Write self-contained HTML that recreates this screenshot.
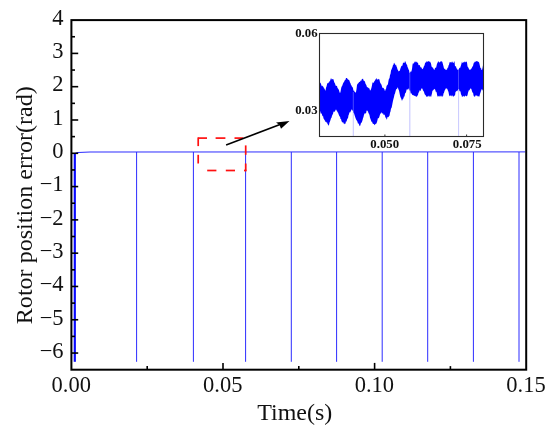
<!DOCTYPE html>
<html><head><meta charset="utf-8"><title>Rotor position error</title>
<style>html,body{margin:0;padding:0;background:#fff}svg{display:block}</style></head>
<body>
<svg width="550" height="433" viewBox="0 0 550 433">
<rect x="0" y="0" width="550" height="433" fill="#fff"/>
<g stroke="#2c2cff" stroke-width="1" fill="none">
<path d="M75.5 153.1 L78 152.5 L90 152.0 L525.2 151.9"/>
<line x1="136.6" y1="152" x2="136.6" y2="361.8"/>
<line x1="193.4" y1="152" x2="193.4" y2="361.8"/>
<line x1="245.6" y1="152" x2="245.6" y2="361.8"/>
<line x1="291.3" y1="152" x2="291.3" y2="361.8"/>
<line x1="336.6" y1="152" x2="336.6" y2="361.8"/>
<line x1="382.2" y1="152" x2="382.2" y2="361.8"/>
<line x1="427.7" y1="152" x2="427.7" y2="361.8"/>
<line x1="473.4" y1="152" x2="473.4" y2="361.8"/>
<line x1="519.0" y1="152" x2="519.0" y2="361.8"/>
</g>
<line x1="74.8" y1="153" x2="74.8" y2="361.8" stroke="#0a0aff" stroke-width="2.2"/>
<rect x="71.4" y="20.1" width="454.80000000000007" height="349.59999999999997" fill="none" stroke="#000" stroke-width="2"/>
<g stroke="#000" stroke-width="1.6">
<line x1="71.4" y1="353.05" x2="78.2" y2="353.05"/>
<line x1="71.4" y1="319.76" x2="78.2" y2="319.76"/>
<line x1="71.4" y1="286.46" x2="78.2" y2="286.46"/>
<line x1="71.4" y1="253.17" x2="78.2" y2="253.17"/>
<line x1="71.4" y1="219.87" x2="78.2" y2="219.87"/>
<line x1="71.4" y1="186.58" x2="78.2" y2="186.58"/>
<line x1="71.4" y1="153.28" x2="78.2" y2="153.28"/>
<line x1="71.4" y1="119.99" x2="78.2" y2="119.99"/>
<line x1="71.4" y1="86.69" x2="78.2" y2="86.69"/>
<line x1="71.4" y1="53.40" x2="78.2" y2="53.40"/>
<line x1="71.4" y1="336.40" x2="75.0" y2="336.40"/>
<line x1="71.4" y1="303.11" x2="75.0" y2="303.11"/>
<line x1="71.4" y1="269.81" x2="75.0" y2="269.81"/>
<line x1="71.4" y1="236.52" x2="75.0" y2="236.52"/>
<line x1="71.4" y1="203.22" x2="75.0" y2="203.22"/>
<line x1="71.4" y1="169.93" x2="75.0" y2="169.93"/>
<line x1="71.4" y1="136.63" x2="75.0" y2="136.63"/>
<line x1="71.4" y1="103.34" x2="75.0" y2="103.34"/>
<line x1="71.4" y1="70.04" x2="75.0" y2="70.04"/>
<line x1="71.4" y1="36.75" x2="75.0" y2="36.75"/>
<line x1="223.00" y1="369.7" x2="223.00" y2="362.9"/>
<line x1="374.60" y1="369.7" x2="374.60" y2="362.9"/>
<line x1="147.20" y1="369.7" x2="147.20" y2="366.09999999999997"/>
<line x1="298.80" y1="369.7" x2="298.80" y2="366.09999999999997"/>
<line x1="450.40" y1="369.7" x2="450.40" y2="366.09999999999997"/>
</g>
<g font-family="'Liberation Serif', serif" font-size="22.5px" fill="#111">
<text x="63.6" y="357.85" text-anchor="end">−6</text>
<text x="63.6" y="324.56" text-anchor="end">−5</text>
<text x="63.6" y="291.26" text-anchor="end">−4</text>
<text x="63.6" y="257.97" text-anchor="end">−3</text>
<text x="63.6" y="224.67" text-anchor="end">−2</text>
<text x="63.6" y="191.38" text-anchor="end">−1</text>
<text x="63.6" y="158.08" text-anchor="end">0</text>
<text x="63.6" y="124.79" text-anchor="end">1</text>
<text x="63.6" y="91.49" text-anchor="end">2</text>
<text x="63.6" y="58.20" text-anchor="end">3</text>
<text x="63.6" y="24.90" text-anchor="end">4</text>
<text x="71.20" y="391.6" text-anchor="middle">0.00</text>
<text x="222.80" y="391.6" text-anchor="middle">0.05</text>
<text x="374.40" y="391.6" text-anchor="middle">0.10</text>
<text x="526.00" y="391.6" text-anchor="middle">0.15</text>
</g>
<g font-family="'Liberation Serif', serif" font-size="23px" fill="#111">
<text x="294.7" y="419.6" text-anchor="middle" textLength="75" lengthAdjust="spacingAndGlyphs">Time(s)</text>
<text transform="translate(31.6 205.2) rotate(-90)" text-anchor="middle" textLength="238" lengthAdjust="spacingAndGlyphs">Rotor position error(rad)</text>
</g>
<g stroke="#ff1010" stroke-width="1.7" fill="none">
<line x1="198.2" y1="138.1" x2="207" y2="138.1"/>
<line x1="215.6" y1="138.1" x2="225.4" y2="138.1"/>
<line x1="234.5" y1="138.1" x2="243.3" y2="138.1"/>
<line x1="245.7" y1="145.4" x2="245.7" y2="154.8"/>
<line x1="245.7" y1="163.5" x2="245.7" y2="171.2"/>
<line x1="246.4" y1="170.5" x2="244" y2="170.5"/>
<line x1="225.8" y1="170.5" x2="235" y2="170.5"/>
<line x1="207.2" y1="170.5" x2="216.4" y2="170.5"/>
<line x1="198.2" y1="137.4" x2="198.2" y2="146.1"/>
<line x1="198.2" y1="154.8" x2="198.2" y2="163.5"/>
</g>
<line x1="226.1" y1="144.9" x2="280" y2="124.6" stroke="#000" stroke-width="1.6"/>
<polygon points="289.5,120.9 276.0,122.6 279.6,125.0 281.0,128.8" fill="#000"/>
<g stroke="#ccccff" stroke-width="1">
<line x1="353.3" y1="92" x2="353.3" y2="136.5"/>
<line x1="409.8" y1="72" x2="409.8" y2="136.5"/>
<line x1="458.6" y1="70" x2="458.6" y2="136.5"/>
</g>
<polygon points="319.5,81.7 320.0,82.8 320.5,82.7 321.0,84.0 321.5,85.6 322.0,86.4 322.5,85.5 323.0,86.4 323.5,86.9 324.0,88.5 324.5,88.4 325.0,90.1 325.5,90.7 326.0,87.7 326.5,86.4 327.0,84.4 327.5,82.8 328.0,83.5 328.5,82.5 329.0,82.4 329.5,81.2 330.0,81.1 330.5,79.5 331.0,78.1 331.5,79.1 332.0,79.8 332.5,78.9 333.0,78.9 333.5,79.4 334.0,81.4 334.5,82.8 335.0,83.4 335.5,85.2 336.0,85.9 336.5,85.7 337.0,85.9 337.5,88.0 338.0,88.6 338.5,89.2 339.0,90.2 339.5,91.9 340.0,93.3 340.5,91.7 341.0,89.0 341.5,86.7 342.0,86.3 342.5,84.9 343.0,83.4 343.5,82.5 344.0,82.1 344.5,80.7 345.0,79.9 345.5,79.7 346.0,78.0 346.5,78.0 347.0,77.9 347.5,79.0 348.0,79.5 348.5,79.7 349.0,80.1 349.5,80.7 350.0,82.6 350.5,83.2 351.0,85.0 351.5,85.5 352.0,86.8 352.5,86.9 353.0,88.3 353.5,90.9 354.0,90.2 354.5,91.7 355.0,92.1 355.5,92.7 356.0,91.9 356.5,89.2 357.0,85.0 357.5,83.9 358.0,83.6 358.5,82.9 359.0,82.2 359.5,81.7 360.0,81.9 360.5,80.3 361.0,81.3 361.5,80.0 362.0,78.9 362.5,79.1 363.0,78.6 363.5,80.5 364.0,80.8 364.5,81.1 365.0,81.7 365.5,83.7 366.0,84.6 366.5,85.6 367.0,87.2 367.5,87.2 368.0,87.2 368.5,88.2 369.0,88.1 369.5,88.7 370.0,90.4 370.5,90.3 371.0,89.2 371.5,87.4 372.0,85.2 372.5,82.6 373.0,82.4 373.5,82.9 374.0,82.1 374.5,80.9 375.0,80.4 375.5,79.4 376.0,78.8 376.5,78.1 377.0,80.0 377.5,79.6 378.0,78.7 378.5,79.5 379.0,78.8 379.5,79.9 380.0,82.2 380.5,83.2 381.0,84.0 381.5,84.7 382.0,86.6 382.5,88.1 383.0,87.8 383.5,87.9 384.0,88.7 384.5,89.6 385.0,91.5 385.5,89.4 386.0,88.9 386.5,86.2 387.0,85.2 387.5,84.9 388.0,83.7 388.5,80.7 389.0,78.4 389.5,78.4 390.0,75.0 390.5,73.9 391.0,70.5 391.5,69.6 392.0,68.2 392.5,66.9 393.0,65.1 393.5,64.8 394.0,62.5 394.5,63.4 395.0,64.1 395.5,65.6 396.0,64.5 396.5,66.5 397.0,67.4 397.5,69.6 398.0,70.0 398.5,71.5 399.0,71.0 399.5,71.0 400.0,70.1 400.5,68.3 401.0,67.0 401.5,65.7 402.0,66.1 402.5,65.3 403.0,62.7 403.5,62.4 404.0,63.2 404.5,62.8 405.0,61.1 405.5,61.7 406.0,63.1 406.5,64.4 407.0,64.5 407.5,67.1 408.0,67.7 408.5,69.6 409.0,69.9 409.5,72.9 410.0,72.7 410.5,71.3 411.0,72.1 411.5,71.0 412.0,68.9 412.5,64.7 413.0,63.0 413.5,64.0 414.0,62.5 414.5,62.4 415.0,61.1 415.5,62.4 416.0,61.3 416.5,62.6 417.0,61.5 417.5,63.0 418.0,62.7 418.5,65.2 419.0,65.0 419.5,64.9 420.0,65.7 420.5,67.5 421.0,67.1 421.5,67.7 422.0,68.7 422.5,69.2 423.0,68.6 423.5,67.6 424.0,65.9 424.5,65.4 425.0,63.2 425.5,62.3 426.0,62.8 426.5,61.3 427.0,61.5 427.5,61.5 428.0,62.1 428.5,61.0 429.0,61.1 429.5,62.0 430.0,61.4 430.5,62.5 431.0,63.4 431.5,66.3 432.0,67.3 432.5,67.4 433.0,67.4 433.5,69.0 434.0,69.6 434.5,69.9 435.0,68.1 435.5,67.5 436.0,68.0 436.5,65.9 437.0,63.7 437.5,63.1 438.0,61.6 438.5,61.3 439.0,62.5 439.5,62.2 440.0,62.3 440.5,61.1 441.0,61.9 441.5,61.0 442.0,61.5 442.5,62.6 443.0,64.5 443.5,66.2 444.0,68.4 444.5,69.0 445.0,68.6 445.5,69.8 446.0,70.2 446.5,69.6 447.0,69.7 447.5,67.4 448.0,68.0 448.5,65.5 449.0,64.7 449.5,62.5 450.0,62.0 450.5,62.5 451.0,62.0 451.5,62.7 452.0,61.2 452.5,62.1 453.0,62.9 453.5,63.0 454.0,61.5 454.5,61.6 455.0,66.3 455.5,66.3 456.0,66.3 456.5,68.4 457.0,68.4 457.5,69.8 458.0,69.9 458.5,69.7 459.0,68.7 459.5,67.6 460.0,68.2 460.5,66.8 461.0,65.3 461.5,63.4 462.0,61.6 462.5,63.0 463.0,62.9 463.5,62.1 464.0,62.2 464.5,61.3 465.0,62.7 465.5,61.4 466.0,62.2 466.5,61.3 467.0,62.5 467.5,66.5 468.0,67.0 468.5,68.1 469.0,69.1 469.5,70.2 470.0,69.0 470.5,70.0 471.0,69.1 471.5,68.4 472.0,67.4 472.5,66.6 473.0,66.0 473.5,63.7 474.0,62.5 474.5,62.5 475.0,61.2 475.5,62.0 476.0,61.2 476.5,61.3 477.0,61.0 477.5,61.5 478.0,61.5 478.5,62.1 479.0,62.3 479.5,64.1 480.0,66.3 480.5,68.2 481.0,68.1 481.5,69.9 482.0,69.9 482.5,68.1 483.0,65.3 483.5,64.8 483.5,90.7 483.0,90.7 482.5,90.1 482.0,88.9 481.5,89.6 481.0,91.0 480.5,92.6 480.0,94.1 479.5,96.1 479.0,97.0 478.5,95.7 478.0,96.8 477.5,96.0 477.0,95.4 476.5,95.8 476.0,95.3 475.5,95.6 475.0,96.7 474.5,96.6 474.0,96.5 473.5,95.2 473.0,92.6 472.5,92.7 472.0,91.2 471.5,89.6 471.0,88.6 470.5,88.5 470.0,88.9 469.5,90.4 469.0,89.9 468.5,91.3 468.0,92.8 467.5,95.3 467.0,96.1 466.5,96.6 466.0,95.8 465.5,95.6 465.0,96.3 464.5,96.6 464.0,96.7 463.5,96.1 463.0,95.7 462.5,96.7 462.0,96.9 461.5,95.0 461.0,94.4 460.5,91.6 460.0,91.3 459.5,91.3 459.0,89.0 458.5,88.9 458.0,90.0 457.5,90.5 457.0,91.6 456.5,90.7 456.0,91.5 455.5,92.1 455.0,95.7 454.5,95.2 454.0,96.2 453.5,96.6 453.0,96.5 452.5,95.1 452.0,96.7 451.5,95.6 451.0,95.8 450.5,95.3 450.0,96.2 449.5,96.1 449.0,94.8 448.5,92.1 448.0,90.8 447.5,89.6 447.0,88.5 446.5,88.7 446.0,88.0 445.5,89.3 445.0,89.7 444.5,91.1 444.0,92.7 443.5,93.5 443.0,96.4 442.5,96.8 442.0,95.3 441.5,96.9 441.0,95.4 440.5,96.1 440.0,97.0 439.5,95.6 439.0,97.0 438.5,95.7 438.0,96.5 437.5,96.6 437.0,94.5 436.5,91.4 436.0,92.4 435.5,90.8 435.0,89.3 434.5,88.8 434.0,89.7 433.5,89.5 433.0,90.8 432.5,90.6 432.0,93.2 431.5,95.2 431.0,97.3 430.5,95.4 430.0,97.3 429.5,95.6 429.0,97.2 428.5,95.4 428.0,96.2 427.5,96.6 427.0,96.7 426.5,96.7 426.0,96.1 425.5,95.0 425.0,94.7 424.5,93.8 424.0,91.9 423.5,91.0 423.0,90.4 422.5,88.9 422.0,88.3 421.5,88.4 421.0,89.4 420.5,90.9 420.0,90.7 419.5,90.3 419.0,92.5 418.5,92.5 418.0,94.9 417.5,95.6 417.0,96.6 416.5,96.6 416.0,96.9 415.5,96.1 415.0,95.8 414.5,96.1 414.0,95.6 413.5,95.4 413.0,94.7 412.5,95.3 412.0,94.4 411.5,93.0 411.0,94.1 410.5,92.5 410.0,90.0 409.5,90.9 409.0,88.0 408.5,89.0 408.0,89.8 407.5,89.6 407.0,89.0 406.5,89.9 406.0,92.3 405.5,93.0 405.0,93.6 404.5,96.7 404.0,96.3 403.5,98.3 403.0,98.9 402.5,99.6 402.0,101.1 401.5,99.5 401.0,98.0 400.5,97.3 400.0,95.6 399.5,93.0 399.0,90.6 398.5,89.4 398.0,88.0 397.5,87.2 397.0,89.3 396.5,88.7 396.0,89.8 395.5,91.4 395.0,93.6 394.5,94.4 394.0,97.1 393.5,98.7 393.0,100.7 392.5,103.3 392.0,106.0 391.5,108.0 391.0,108.6 390.5,111.4 390.0,112.8 389.5,115.8 389.0,115.9 388.5,117.2 388.0,117.1 387.5,116.9 387.0,119.2 386.5,119.5 386.0,117.3 385.5,118.0 385.0,115.7 384.5,114.7 384.0,114.5 383.5,114.9 383.0,112.9 382.5,113.5 382.0,113.8 381.5,112.0 381.0,113.3 380.5,113.5 380.0,114.6 379.5,116.3 379.0,117.7 378.5,118.4 378.0,117.7 377.5,120.1 377.0,122.0 376.5,123.3 376.0,123.9 375.5,123.8 375.0,124.7 374.5,125.3 374.0,123.9 373.5,123.9 373.0,123.7 372.5,123.3 372.0,121.6 371.5,121.9 371.0,120.5 370.5,118.9 370.0,117.8 369.5,115.3 369.0,113.7 368.5,113.3 368.0,111.6 367.5,111.1 367.0,110.2 366.5,111.1 366.0,113.5 365.5,113.4 365.0,112.9 364.5,113.8 364.0,114.8 363.5,117.1 363.0,118.3 362.5,120.2 362.0,121.7 361.5,122.7 361.0,123.0 360.5,124.7 360.0,126.2 359.5,125.8 359.0,124.6 358.5,123.2 358.0,123.8 357.5,122.0 357.0,120.8 356.5,120.3 356.0,119.2 355.5,117.9 355.0,116.4 354.5,115.1 354.0,113.3 353.5,112.9 353.0,111.1 352.5,110.4 352.0,109.6 351.5,109.5 351.0,110.8 350.5,111.8 350.0,112.7 349.5,112.1 349.0,114.2 348.5,115.3 348.0,118.2 347.5,118.5 347.0,119.7 346.5,122.0 346.0,121.0 345.5,123.9 345.0,123.3 344.5,123.9 344.0,124.2 343.5,122.7 343.0,122.2 342.5,122.6 342.0,122.0 341.5,120.9 341.0,119.0 340.5,119.1 340.0,116.6 339.5,116.5 339.0,115.3 338.5,114.1 338.0,112.6 337.5,112.3 337.0,110.7 336.5,110.6 336.0,109.3 335.5,110.3 335.0,111.1 334.5,111.9 334.0,111.5 333.5,111.7 333.0,113.7 332.5,114.8 332.0,115.8 331.5,117.7 331.0,118.3 330.5,120.0 330.0,121.6 329.5,122.5 329.0,124.9 328.5,125.7 328.0,124.5 327.5,124.1 327.0,122.3 326.5,122.8 326.0,121.6 325.5,122.2 325.0,120.6 324.5,120.3 324.0,119.0 323.5,118.4 323.0,115.8 322.5,116.4 322.0,114.5 321.5,113.0 321.0,114.2 320.5,112.4 320.0,110.7 319.5,111.2" fill="#0000ff"/>
<g stroke="#c8c8ff" stroke-width="0.8" opacity="0.45">
<line x1="353.3" y1="92" x2="353.3" y2="136.5"/>
<line x1="409.8" y1="72" x2="409.8" y2="136.5"/>
<line x1="458.6" y1="70" x2="458.6" y2="136.5"/>
</g>
<rect x="319.5" y="33.5" width="164.0" height="103.0" fill="none" stroke="#2a2a2a" stroke-width="1.1"/>
<g stroke="#333" stroke-width="1">
<line x1="384.9" y1="136.5" x2="384.9" y2="134.5"/>
<line x1="466.6" y1="136.5" x2="466.6" y2="134.5"/>
</g>
<g font-family="'Liberation Serif', serif" font-size="12.8px" font-weight="bold" fill="#111">
<text x="317.6" y="37.2" text-anchor="end">0.06</text>
<text x="317.6" y="114.2" text-anchor="end">0.03</text>
<text x="384.7" y="147.7" text-anchor="middle">0.050</text>
<text x="467.2" y="147.7" text-anchor="middle">0.075</text>
</g>
</svg>
</body></html>
